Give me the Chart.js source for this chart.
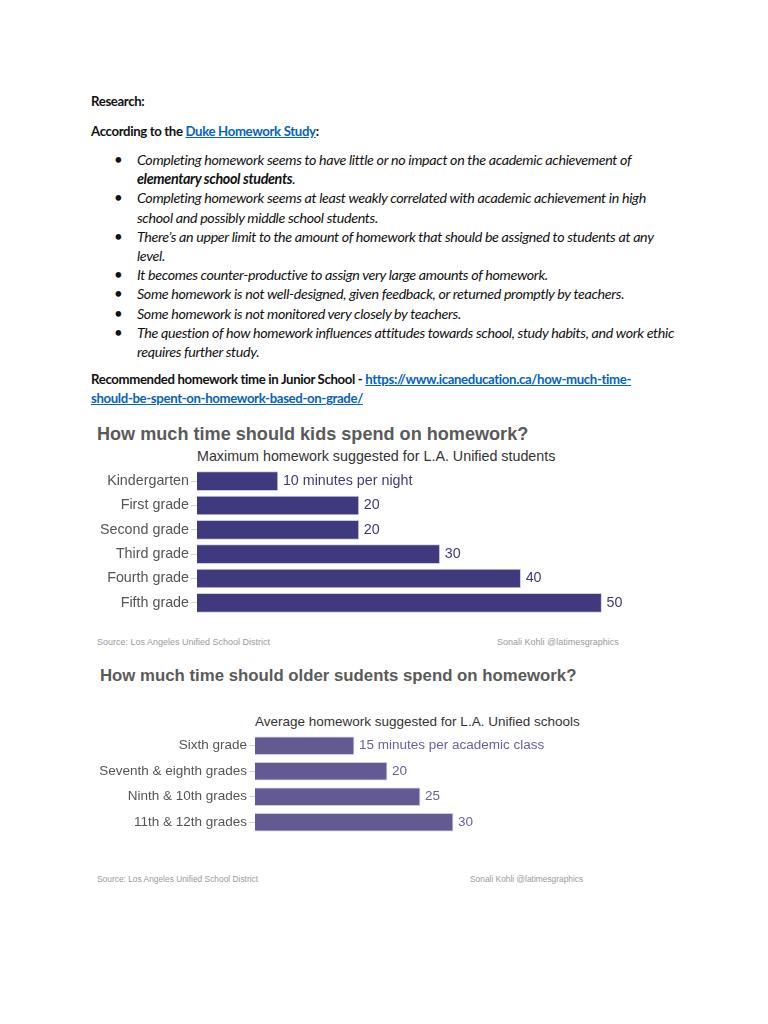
<!DOCTYPE html>
<html>
<head>
<meta charset="utf-8">
<script src="https://cdn.jsdelivr.net/npm/chart.js@4.4.0/dist/chart.umd.min.js"></script>
<style>
  body { margin: 0; background: #fff; width: 768px; height: 1024px; position: relative; overflow: hidden; }
  .doc { position: absolute; left: 91px; top: 92px; width: 587px; font-family: Lato, "Open Sans", sans-serif; font-size: 13.2px; color: #111; letter-spacing: -0.35px; }
  .doc p { margin: 0; }
  .doc a { color: #0563c1; text-decoration: underline; }
  .doc ul { margin: 0; padding: 0; list-style: none; }
  .doc li { position: relative; padding-left: 46px; font-style: italic; font-size: 14.3px; line-height: 19.2px; }
  .doc li::before { content: "\2022"; position: absolute; left: 23px; font-style: normal; font-size: 15px; }
  .h { position: absolute; font-family: "Liberation Sans", Arial, sans-serif; white-space: nowrap; }
  .title { font-weight: bold; color: #5a5a5a; font-size: 18.1px; }
  .sub { color: #333; font-size: 14.3px; }
  .foot { color: #9a9a9a; font-size: 9px; }
  canvas { position: absolute; }
</style>
</head>
<body>
<div class="doc">
  <p style="font-weight:bold;line-height:18px">Research:</p>
  <p style="font-weight:bold;margin-top:12px;line-height:18px">According to the <a>Duke Homework Study</a>:</p>
  <ul style="margin-top:10px">
    <li>Completing homework seems to have little or no impact on the academic achievement of <b>elementary school students</b>.</li>
    <li>Completing homework seems at least weakly correlated with academic achievement in high school and possibly middle school students.</li>
    <li>There’s an upper limit to the amount of homework that should be assigned to students at any level.</li>
    <li>It becomes counter-productive to assign very large amounts of homework.</li>
    <li>Some homework is not well-designed, given feedback, or returned promptly by teachers.</li>
    <li>Some homework is not monitored very closely by teachers.</li>
    <li>The question of how homework influences attitudes towards school, study habits, and work ethic requires further study.</li>
  </ul>
  <p style="font-weight:bold;margin-top:9px;line-height:19.2px;white-space:nowrap">Recommended homework time in Junior School - <a>https://www.icaneducation.ca/how-much-time-<br>should-be-spent-on-homework-based-on-grade/</a></p>
</div>

<div class="h title" style="left:97px;top:424px">How much time should kids spend on homework?</div>
<div class="h sub" style="left:197px;top:448px">Maximum homework suggested for L.A. Unified students</div>
<canvas id="kidsChart" width="552" height="146" style="left:90px;top:469px"></canvas>
<div class="h foot" style="left:97px;top:637px">Source: Los Angeles Unified School District</div>
<div class="h foot" style="left:497px;top:637px">Sonali Kohli @latimesgraphics</div>

<div class="h title" style="left:100px;top:666px;font-size:16.8px">How much time should older sudents spend on homework?</div>
<div class="h sub" style="left:255px;top:714px;font-size:13.5px">Average homework suggested for L.A. Unified schools</div>
<canvas id="olderChart" width="495" height="102" style="left:90px;top:733px"></canvas>
<div class="h foot" style="left:97px;top:874px;font-size:8.4px">Source: Los Angeles Unified School District</div>
<div class="h foot" style="left:470px;top:874px;font-size:8.4px">Sonali Kohli @latimesgraphics</div>

<script>
const kidsGrades = ['Kindergarten', 'First grade', 'Second grade', 'Third grade', 'Fourth grade', 'Fifth grade'];
const kidsMinutes = [10, 20, 20, 30, 40, 50];
const kidsLabels = ['10 minutes per night', '20', '20', '30', '40', '50'];

const olderGrades = ['Sixth grade', 'Seventh & eighth grades', 'Ninth & 10th grades', '11th & 12th grades'];
const olderMinutes = [15, 20, 25, 30];
const olderLabels = ['15 minutes per academic class', '20', '25', '30'];

// draws the number at the end of each bar
const endLabels = {
    id: 'endLabels',
    afterDatasetsDraw(chart, args, opts) {
        const ctx = chart.ctx;
        const meta = chart.getDatasetMeta(0);
        ctx.save();
        ctx.font = opts.size + 'px "Liberation Sans", Arial, sans-serif';
        ctx.fillStyle = opts.color;
        ctx.textBaseline = 'middle';
        meta.data.forEach((bar, i) => {
            ctx.fillText(opts.labels[i], bar.x + 5, bar.y);
        });
        ctx.restore();
    }
};

const makeChart = (id, grades, minutes, labels, color, labelColor, max, axisWidth, thickness, fontSize) => {
    new Chart(document.getElementById(id), {
        type: 'bar',
        data: {
            labels: grades,
            datasets: [{
                data: minutes,
                backgroundColor: color,
                borderColor: 'rgba(200,195,230,0.9)',
                borderWidth: 1,
                barThickness: thickness
            }]
        },
        options: {
            indexAxis: 'y',
            responsive: false,
            animation: false,
            layout: { padding: 0 },
            plugins: {
                legend: { display: false },
                tooltip: { enabled: false },
                endLabels: { labels: labels, color: labelColor, size: fontSize }
            },
            scales: {
                x: { display: false, min: 0, max: max },
                y: {
                    afterFit: (axis) => {
                        axis.width = axisWidth;
                        axis.paddingTop = 0;
                        axis.paddingBottom = 0;
                    },
                    border: { display: false },
                    grid: {
                        display: true,
                        offset: false,
                        drawOnChartArea: false,
                        tickLength: 6,
                        tickColor: '#d4d4d4'
                    },
                    ticks: {
                        color: '#555',
                        padding: 2,
                        font: { family: '"Liberation Sans", Arial, sans-serif', size: fontSize }
                    }
                }
            }
        },
        plugins: [endLabels]
    });
};

makeChart('kidsChart', kidsGrades, kidsMinutes, kidsLabels, '#3f3a7e', '#3f3a7e', 55, 107, 19, 14.3);
makeChart('olderChart', olderGrades, olderMinutes, olderLabels, '#635a93', '#6a60a0', 50, 165, 18, 13.5);
</script>
</body>
</html>
